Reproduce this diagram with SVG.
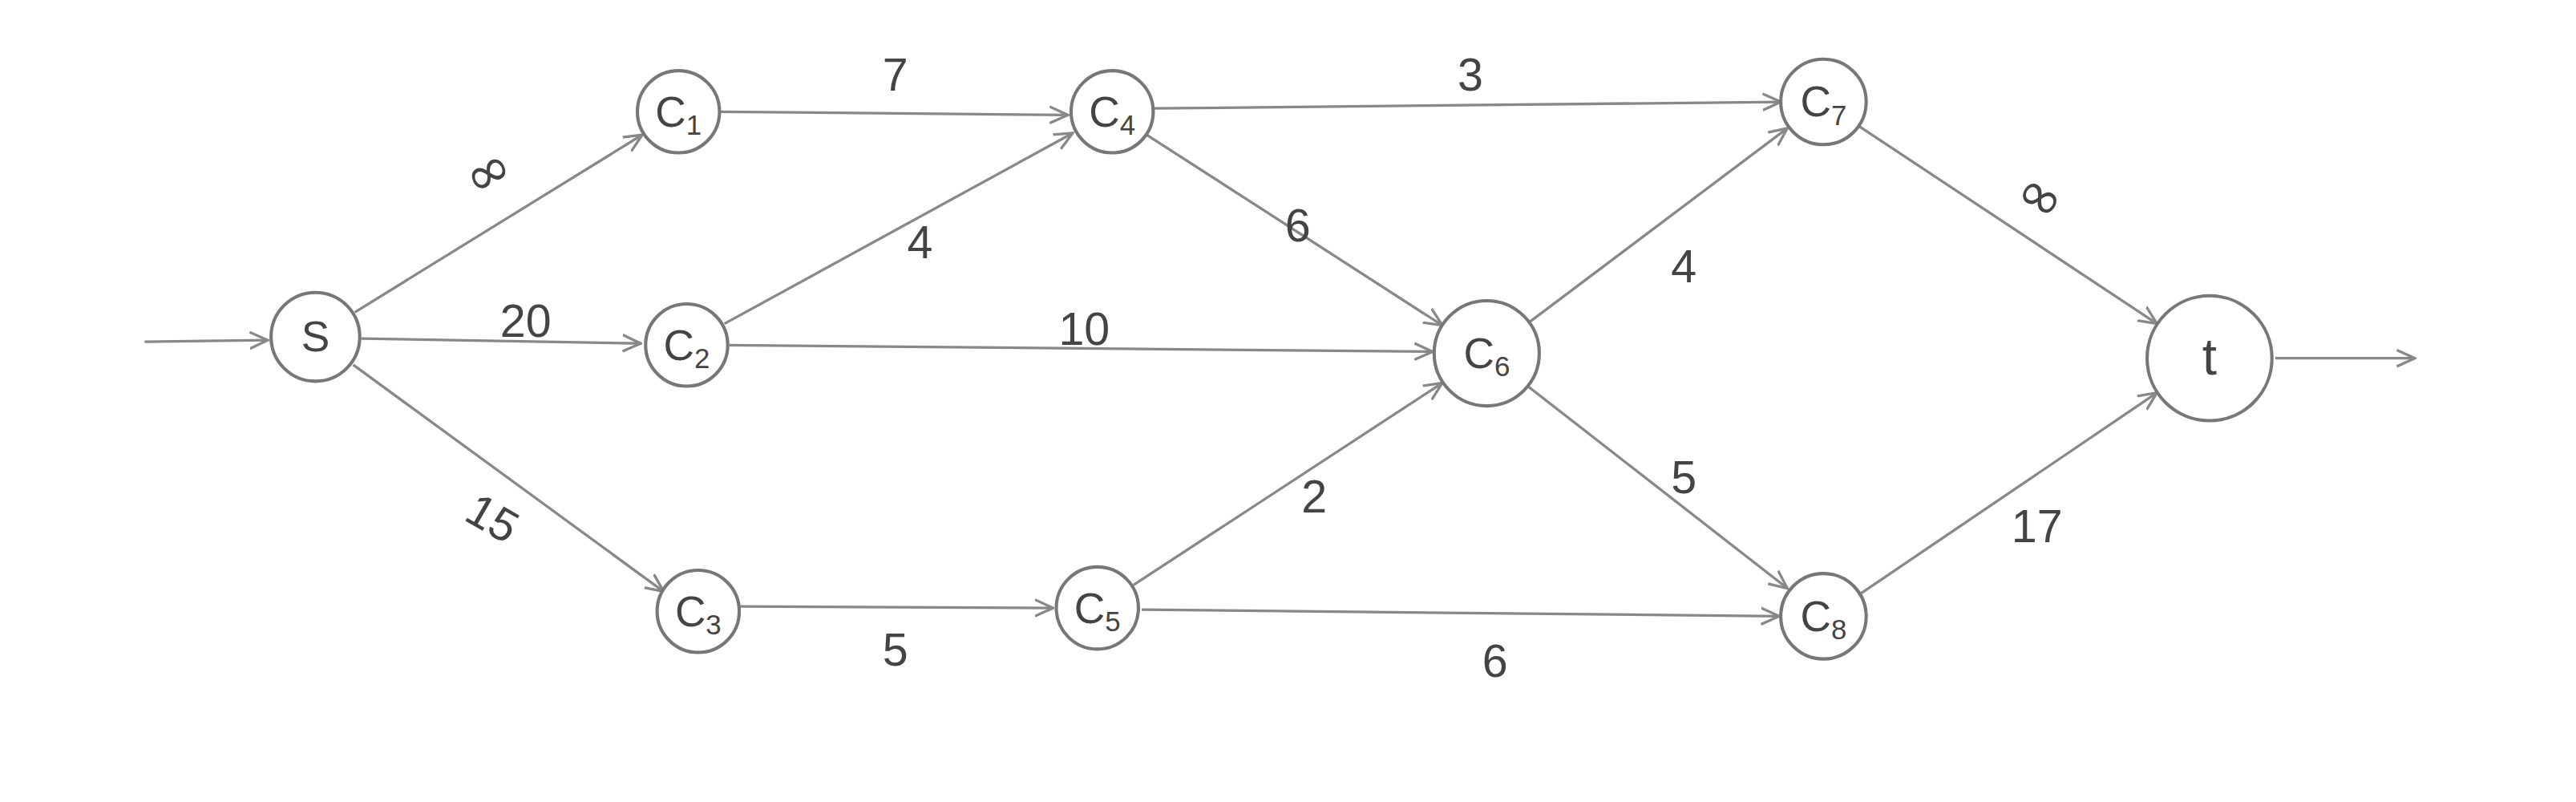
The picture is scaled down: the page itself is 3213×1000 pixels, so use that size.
<svg xmlns="http://www.w3.org/2000/svg" width="3213" height="1000" viewBox="0 0 3213 1000">
<style>
.n{fill:#fff;stroke:#777;stroke-width:2}
.e{stroke:#888;stroke-width:1.6;fill:none;marker-end:url(#a)}
.t{font-family:"Liberation Sans",sans-serif;font-size:26px;fill:#444;text-anchor:middle}
.w{font-family:"Liberation Sans",sans-serif;font-size:28px;fill:#444;text-anchor:middle}
.i{font-family:"DejaVu Sans",sans-serif;font-size:34px;fill:#444;text-anchor:middle}
.s{font-size:17px}
</style>
<defs><marker id="a" viewBox="0 0 12 12" refX="11" refY="6" markerWidth="12" markerHeight="12" markerUnits="userSpaceOnUse" orient="auto"><path d="M0,1 L11,6 L0,11" fill="none" stroke="#888" stroke-width="1.6"/></marker></defs>
<rect width="3213" height="1000" fill="#fff"/>
<g transform="scale(2.049)">
<g id="connectors">
<line class="e" x1="88" y1="208" x2="163" y2="207"/>
<line class="e" x1="216" y1="190" x2="391" y2="82"/>
<line class="e" x1="220" y1="206" x2="390" y2="209"/>
<line class="e" x1="215" y1="222" x2="404" y2="360"/>
<line class="e" x1="438" y1="68" x2="650" y2="70"/>
<line class="e" x1="441" y1="197" x2="653" y2="81"/>
<line class="e" x1="444" y1="210" x2="872" y2="214"/>
<line class="e" x1="450" y1="369" x2="641" y2="370"/>
<line class="e" x1="702" y1="66" x2="1084" y2="62"/>
<line class="e" x1="698" y1="82" x2="878" y2="198"/>
<line class="e" x1="690" y1="356" x2="878" y2="233"/>
<line class="e" x1="695" y1="371" x2="1083" y2="375"/>
<line class="e" x1="931" y1="196" x2="1088" y2="78"/>
<line class="e" x1="930" y1="235" x2="1088" y2="358"/>
<line class="e" x1="1132" y1="77" x2="1313" y2="197"/>
<line class="e" x1="1133" y1="361" x2="1313" y2="239"/>
<line class="e" x1="1385" y1="218" x2="1470" y2="218"/>
<text class="i" x="297" y="116" transform="rotate(-30 297 105)">∞</text>
<text class="w" x="320" y="205">20</text>
<text class="w" x="300" y="325" transform="rotate(30 300 315)">15</text>
<text class="w" x="545" y="55">7</text>
<text class="w" x="560" y="157">4</text>
<text class="w" x="660" y="210">10</text>
<text class="w" x="895" y="55">3</text>
<text class="w" x="790" y="147">6</text>
<text class="w" x="1025" y="172">4</text>
<text class="w" x="800" y="312">2</text>
<text class="w" x="545" y="405">5</text>
<text class="w" x="910" y="412">6</text>
<text class="w" x="1025" y="300">5</text>
<text class="i" x="1242" y="131" transform="rotate(30 1242 120)">∞</text>
<text class="w" x="1240" y="330">17</text>
</g>
<g id="S"><circle class="n" cx="192" cy="205" r="27"/><text class="t" x="192" y="214">S</text></g>
<g id="C1"><circle class="n" cx="413" cy="68" r="25"/><text class="t" x="413" y="77">C<tspan class="s" dy="5">1</tspan></text></g>
<g id="C2"><circle class="n" cx="418" cy="210" r="25"/><text class="t" x="418" y="219">C<tspan class="s" dy="5">2</tspan></text></g>
<g id="C3"><circle class="n" cx="425" cy="372" r="25"/><text class="t" x="425" y="381">C<tspan class="s" dy="5">3</tspan></text></g>
<g id="C4"><circle class="n" cx="677" cy="68" r="25"/><text class="t" x="677" y="77">C<tspan class="s" dy="5">4</tspan></text></g>
<g id="C5"><circle class="n" cx="668" cy="370" r="25"/><text class="t" x="668" y="379">C<tspan class="s" dy="5">5</tspan></text></g>
<g id="C6"><circle class="n" cx="905" cy="215" r="32"/><text class="t" x="905" y="224">C<tspan class="s" dy="5">6</tspan></text></g>
<g id="C7"><circle class="n" cx="1110" cy="62" r="26"/><text class="t" x="1110" y="71">C<tspan class="s" dy="5">7</tspan></text></g>
<g id="C8"><circle class="n" cx="1110" cy="375" r="26"/><text class="t" x="1110" y="384">C<tspan class="s" dy="5">8</tspan></text></g>
<g id="t"><circle class="n" cx="1345" cy="218" r="38"/><text class="t" x="1345" y="228" style="font-size:32px">t</text></g>
</g>
</svg>
